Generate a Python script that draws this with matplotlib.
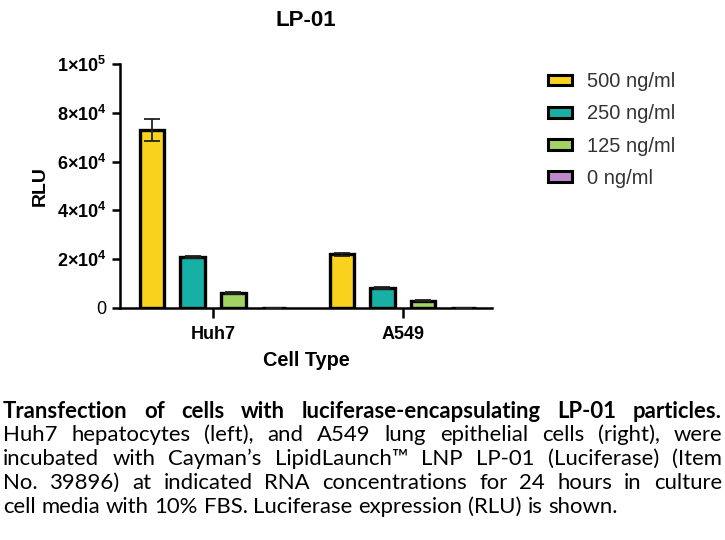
import numpy as np
import matplotlib
matplotlib.use("Agg")
from matplotlib import pyplot as plt
from matplotlib.patches import Patch

plt.rcParams['font.family'] = ['Liberation Sans', 'DejaVu Sans']
plt.rcParams['mathtext.fontset'] = 'custom'
plt.rcParams['mathtext.rm'] = 'Liberation Sans'
plt.rcParams['mathtext.bf'] = 'Liberation Sans:bold'

# data
cells = ["Huh7", "A549"]
doses = ["500 ng/ml", "250 ng/ml", "125 ng/ml", "0 ng/ml"]
rlu = {
    "500 ng/ml": [73000, 22000],
    "250 ng/ml": [21000, 8200],
    "125 ng/ml": [6200, 2900],
    "0 ng/ml": [100, 80],
}
err = {
    "500 ng/ml": [4600, 500],
    "250 ng/ml": [500, 300],
    "125 ng/ml": [400, 200],
    "0 ng/ml": [0, 0],
}
colors = ["#F8D21C", "#16B0A5", "#A2D263", "#BF87CC"]
yticks = [0, 20000, 40000, 60000, 80000, 100000]
ytick_labels = ["0", r"$\mathbf{2{\times}10^{4}}$", r"$\mathbf{4{\times}10^{4}}$",
                r"$\mathbf{6{\times}10^{4}}$", r"$\mathbf{8{\times}10^{4}}$",
                r"$\mathbf{1{\times}10^{5}}$"]

caption_bold = "Transfection of cells with luciferase-encapsulating LP-01 particles."
caption_lines = [
    "Huh7 hepatocytes (left), and A549 lung epithelial cells (right), were",
    "incubated with Cayman\u2019s LipidLaunch\u2122 LNP LP-01 (Luciferase) (Item",
    "No. 39896) at indicated RNA concentrations for 24 hours in culture",
    "cell media with 10% FBS. Luciferase expression (RLU) is shown.",
]

W, H = 725, 540
fig = plt.figure(figsize=(W / 100, H / 100), dpi=100)
ax = fig.add_axes([120 / W, 1 - 308 / H, (492 - 120) / W, (308 - 64) / H])

x = np.arange(len(cells))
pitch = 0.214
width = 0.13
for i, d in enumerate(doses):
    off = (i - 1.5) * pitch
    ax.bar(x + off, rlu[d], width, color=colors[i], edgecolor="black",
           linewidth=2.4, zorder=3)
    ax.errorbar(x + off, rlu[d], yerr=err[d], fmt="none", ecolor="#222222",
                elinewidth=1.3, capsize=6, capthick=1.3, zorder=4)

ax.set_xlim(-0.49, 1.47)
ax.set_ylim(0, 100000)
ax.set_yticks(yticks)
ax.set_yticklabels(ytick_labels)
ax.set_xticks(x)
ax.set_xticklabels(cells, fontweight="bold")
ax.tick_params(axis="both", labelsize=13, width=1.8, length=6, direction="out")
ax.tick_params(axis="x", length=7, pad=6)
for s in ["top", "right"]:
    ax.spines[s].set_visible(False)
for s in ["left", "bottom"]:
    ax.spines[s].set_linewidth(1.8)
ax.set_ylabel("RLU", fontsize=14, fontweight="bold", labelpad=6)
ax.set_xlabel("Cell Type", fontsize=14.3, fontweight="bold", labelpad=6)
ax.set_title("LP-01", fontsize=16, fontweight="bold", pad=27)

handles = [Patch(facecolor=c, edgecolor="black", linewidth=2.2) for c in colors]
fig.legend(handles, doses, loc="upper left", bbox_to_anchor=(530 / W, 1 - 54 / H),
           frameon=False, fontsize=14.5, handlelength=1.2, handleheight=0.45,
           labelspacing=0.66, handletextpad=0.75, labelcolor="#333333")

# justified caption
renderer = fig.canvas.get_renderer()
x0, x1 = 3, 722
lines = [(caption_bold, "bold")] + [(l, "normal") for l in caption_lines]
for k, (line, wt) in enumerate(lines):
    yc = 1 - (411 + 24 * k) / H
    words = line.split(" ")
    txts = [fig.text(0, yc, w, fontsize=15.9, fontweight=wt, family="Lato",
                     va="center", ha="left") for w in words]
    widths = [t.get_window_extent(renderer).width for t in txts]
    if k < len(lines) - 1:
        gap = (x1 - x0 - sum(widths)) / (len(words) - 1)
    else:
        gap = 15.9 * 100 / 72 * 0.26
    pos = x0
    for t, wdt in zip(txts, widths):
        t.set_x(pos / W)
        pos += wdt + gap

fig.savefig("out.png", dpi=100)
